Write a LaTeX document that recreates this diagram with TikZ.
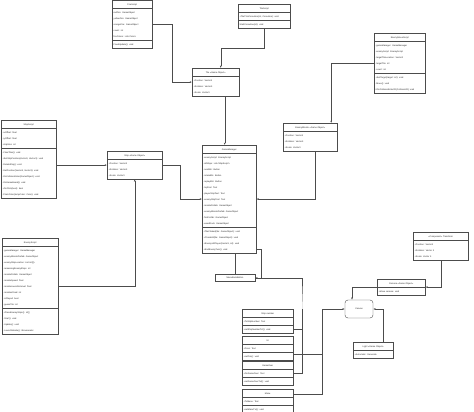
\documentclass[tikz,border=0pt]{standalone}
\usepackage{fontspec}
\setmainfont{Liberation Sans}
\usetikzlibrary{shapes.multipart,arrows.meta}
\newcommand{\umlfont}{\fontsize{2.2}{6}\selectfont}
\newcommand{\ClsThree}[3]{\centering\strut#1\strut\par\nodepart{two}\strut#2\strut\nodepart{three}\strut#3\strut}
\newcommand{\ClsTwo}[2]{\centering\strut#1\strut\par\nodepart{two}\strut#2\strut}

\begin{document}
\begin{tikzpicture}[x=1pt,y=-1pt,
  cls/.style={rectangle split, rectangle split parts=3, draw=black!70, line width=0.4pt,
    fill=white, anchor=north west, inner xsep=1.5pt, inner ysep=0.75pt,
    text width=#1, align=left, font=\umlfont, text=black!85},
  obj/.style={cls=#1, rectangle split parts=2},
  assoc/.style={draw=black!70, line width=0.4pt, -{Latex[length=2.2pt,width=1.8pt]}},
  plain/.style={draw=black!70, line width=0.4pt}]
\fill[white] (0,0) rectangle (474,412);
\useasboundingbox (0,0) rectangle (474,412);

\node[cls=37] (fire) at (112,0.5) {\ClsThree{FireScript}
  {redFire: GameObject\\ yellowFire: GameObject\\ orangeFire: GameObject\\ count: int\\ fireColors: List<Color>}
  {FixedUpdate(): void}};
\node[cls=49] (tile) at (238,4) {\ClsThree{TileScript}
  {+TileThisCoroutine(int, Coroutine): void}
  {StartCoroutine(int): void}};
\node[cls=48] (emove) at (374,33) {\ClsThree{EnemyMoveScript}
  {-gameManager: GameManager\\ -enemyScript: EnemyScript\\ -targetTileLocation: Vector2\\ -targetTile: int\\ -count: int}
  {+SetTarget(target: int): void\\ -Move(): void\\ \#OnCollisionEnter2D(Collision2D): void}};
\node[obj=44] (hit) at (192,68) {\ClsTwo{Tile <<Game Object>>}
  {+Position: Vector3\\ +Rotation: Vector3\\ +Scale: Vector3}};
\node[obj=51] (meteor) at (283,123) {\ClsTwo{EnemyMissile <<Game Object>>}
  {+Position: Vector3\\ +Rotation: Vector3\\ +Scale: Vector3}};
\node[obj=52] (ship) at (107,151) {\ClsTwo{Ship <<Game Object>>}
  {+Position: Vector3\\ +Rotation: Vector3\\ +Scale: Vector3}};
\node[cls=52] (shipscr) at (1,120) {\ClsThree{ShipScript}
  {+xOffset: float\\ +yOffset: float\\ -shipSize: int}
  {-ClearTiles(): void\\ +SetShipPosition(Vector3, Vector3): void\\ -RotateShip(): void\\ -GetPosition(Vector3, Vector3): void\\ -OnCollisionEnter(GameObject): void\\ -OnGameBoard(): void\\ +OnClick(bool): bool\\ -FlashColor(tempColor: Color): void}};
\node[cls=51] (gm) at (202,145) {\ClsThree{GameManager}
  {-enemyScript: EnemyScript\\ -allShips: List<ShipScript>\\ -nextBtn: Button\\ -rotateBtn: Button\\ -replayBtn: Button\\ -topText: Text\\ -playerShipText: Text\\ -enemyShipText: Text\\ -missilePrefab: GameObject\\ -enemyMissilePrefab: GameObject\\ -firePrefab: GameObject\\ -woodDock: GameObject}
  {+TileClicked(tile: GameObject): void\\ +CheckHit(tile: GameObject): void\\ +EnemyHitPlayer(Vector3, int): void\\ +EndEnemyTurn(): void}};
\node[cls=53] (escr) at (2,238) {\ClsThree{EnemyScript}
  {-gameManager: GameManager\\ -enemyMissilePrefab: GameObject\\ -enemyShipLocation: List<int[]>\\ -remainingEnemyShips: int\\ -missilePrefab: GameObject\\ -missileSpeed: float\\ -missileLaunchInterval: float\\ -missilesFired: int\\ -isPlayed: bool\\ -guessTile: int}
  {+PlaceEnemyShips(): int[]\\ -Start(): void\\ -Update(): void\\ -LaunchMissile(): IEnumerator}};
\node[obj=52] (transform) at (413,232) {\ClsTwo{<<Component>> Transform}
  {+Position: Vector3\\ +Rotation: Vector 3\\ +Scale: Vector 3}};
\node[obj=45] (camera) at (377,279) {\ClsTwo{Camera <<Game Object>>}{+Move camera: void}};
\node[obj=37] (light) at (353,342) {\ClsTwo{Light <<Game Object>>}{+Automatic: Generate}};
\node[draw=black!70, line width=0.4pt, rounded corners=3pt, minimum width=28pt, minimum height=18pt,
  font=\umlfont, text=black!85] (canvas) at (359,309) {Canvas};
\node[draw=black!70, line width=0.4pt, minimum width=40pt, minimum height=7pt, inner sep=0pt,
  font=\umlfont, text=black!85] (menuback) at (235,278) {MenuBackButton};
\node[cls=48] (shipnum) at (242,309) {\ClsThree{Ship number}{+ToShipNumber: Text}{+setShipNumberTxt(): void}};
\node[cls=48] (ui) at (242,336) {\ClsThree{UI}{+Fires: Text}{+setFire(): void}};
\node[cls=48] (gameover) at (242,361) {\ClsThree{GameOver}{+OnGameOver: Text}{+setGameOverTxt(): void}};
\node[cls=48] (menu) at (242,389) {\ClsThree{Menu}{+ToMenu: Text}{+setMenuTxt(): void}};

% scripts and their objects
\draw[assoc] (fire.east) -- ++(20,0) |- (hit.west);
\draw[assoc] (tile.south) -- ++(0,20) -| ([xshift=5pt]hit.north);
\draw[assoc] ([xshift=9pt]hit.south) -- ([xshift=9pt]hit.south |- gm.north);
\draw[assoc] (emove.west) -| ([xshift=21pt]meteor.north);
\draw[assoc] ([xshift=5pt]meteor.south) |- (gm.east);
\draw[assoc] (shipscr.east |- ship.west) -- (ship.west);
\draw[assoc] (ship.east) -- ++(18,0) |- (gm.west);
\draw[assoc] (escr.east) -| (ship.south);
\draw[plain] ([xshift=6pt]gm.south) -- ([xshift=6pt]gm.south |- menuback.north);
\draw[plain] ([yshift=4pt]gm.south east) -- ++(5,0) |- (menuback.east);
% scene objects
\draw[assoc] (transform.south) |- (camera.east);
\draw[assoc] (camera.west) -| ([xshift=-7pt]canvas.north);
\draw[assoc] ([xshift=10pt]light.north) |- (canvas.east);
% ui texts
\draw[assoc] ([yshift=-8pt]shipnum.east) -| ([xshift=-43pt]canvas.west) |- (menuback.east);
\draw[assoc] ([yshift=-6pt]ui.east) -| ([xshift=-23pt]canvas.west) -- (canvas.west);
\draw[plain] ([yshift=7pt]menu.east) -| ([xshift=-23pt]canvas.west);
\draw[plain] (gameover.east) -| ([xshift=-43pt]canvas.west);
\end{tikzpicture}
\end{document}
